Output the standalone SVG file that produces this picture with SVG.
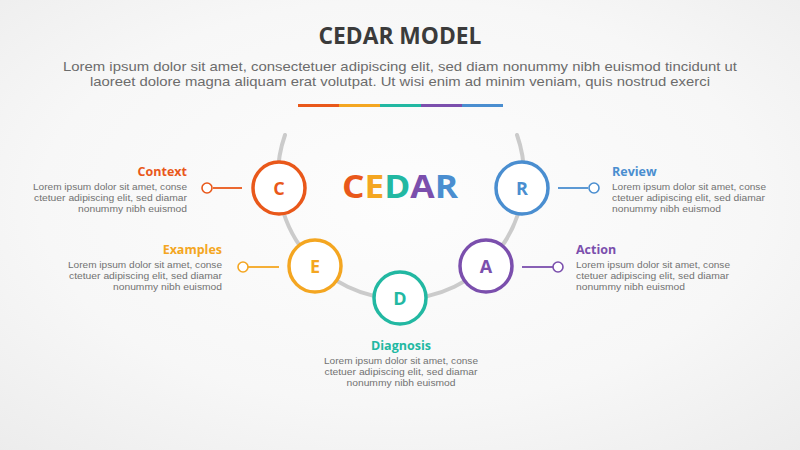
<svg xmlns="http://www.w3.org/2000/svg" width="800" height="450" viewBox="0 0 800 450">
<defs>
<radialGradient id="bg" cx="50%" cy="45%" r="75%">
<stop offset="0" stop-color="#fdfdfd"/>
<stop offset="0.6" stop-color="#f7f7f7"/>
<stop offset="1" stop-color="#ececec"/>
</radialGradient>
<style>
.title{font-family:"Open Sans","Liberation Sans",sans-serif;font-weight:700;font-size:24px;fill:#3b3b3b}
.sub{font-family:"Liberation Sans","Noto Sans",sans-serif;font-size:13px;fill:#6c6c6c}
.body{font-family:"Liberation Sans","Noto Sans",sans-serif;font-size:9.5px;fill:#727272}
.head{font-family:"Open Sans","Liberation Sans",sans-serif;font-weight:700;font-size:12.5px}
.big{font-family:"Open Sans","Liberation Sans",sans-serif;font-weight:700;font-size:32px}
.letter{font-family:"Open Sans","Liberation Sans",sans-serif;font-weight:700;font-size:18px;text-anchor:middle}
.ring{fill:#ffffff;stroke-width:3.5}
.dot{fill:#ffffff;stroke-width:1.6}
.lead{stroke-width:1.8}
.o{fill:#e9581a;stroke:#e9581a}
.y{fill:#f4a621;stroke:#f4a621}
.t{fill:#22b8a2;stroke:#22b8a2}
.p{fill:#7b4fad;stroke:#7b4fad}
.b{fill:#4a8ed0;stroke:#4a8ed0}
</style>
</defs>
<rect width="800" height="450" fill="url(#bg)"/>

<text class="title" x="400" y="44" text-anchor="middle" textLength="163" lengthAdjust="spacingAndGlyphs">CEDAR MODEL</text>
<text class="sub" x="400" y="71" text-anchor="middle" textLength="674" lengthAdjust="spacingAndGlyphs">Lorem ipsum dolor sit amet, consectetuer adipiscing elit, sed diam nonummy nibh euismod tincidunt ut</text>
<text class="sub" x="400" y="86" text-anchor="middle" textLength="620" lengthAdjust="spacingAndGlyphs">laoreet dolore magna aliquam erat volutpat. Ut wisi enim ad minim veniam, quis nostrud exerci</text>

<g id="colorbar">
<rect x="298" y="104" width="41" height="3" fill="#e9581a"/>
<rect x="339" y="104" width="41" height="3" fill="#f4a621"/>
<rect x="380" y="104" width="41" height="3" fill="#22b8a2"/>
<rect x="421" y="104" width="41" height="3" fill="#7b4fad"/>
<rect x="462" y="104" width="41" height="3" fill="#4a8ed0"/>
</g>

<g id="connectors" fill="none">
<path d="M 285 135 A 123 123 0 1 0 517 135" stroke="#cbcbcb" stroke-width="4" stroke-linecap="round"/>
<line class="lead o" x1="213" y1="188" x2="242" y2="188"/>
<line class="lead y" x1="248" y1="267" x2="279" y2="267"/>
<line class="lead b" x1="558" y1="188" x2="588" y2="188"/>
<line class="lead p" x1="522" y1="267" x2="553" y2="267"/>
<circle class="dot" cx="207" cy="188" r="5" stroke="#e9581a"/>
<circle class="dot" cx="243" cy="267" r="5" stroke="#f4a621"/>
<circle class="dot" cx="594" cy="188" r="5" stroke="#4a8ed0"/>
<circle class="dot" cx="558" cy="267" r="5" stroke="#7b4fad"/>
</g>

<g id="cedar-word">
<text class="big" x="400" y="198" text-anchor="middle" textLength="116" lengthAdjust="spacingAndGlyphs"><tspan fill="#e9581a">C</tspan><tspan fill="#f4a621">E</tspan><tspan fill="#22b8a2">D</tspan><tspan fill="#7b4fad">A</tspan><tspan fill="#4a8ed0">R</tspan></text>
</g>

<g id="node-c">
<circle class="ring" cx="279" cy="188" r="26" stroke="#e9581a"/>
<text class="letter" x="279" y="194.5" fill="#e9581a">C</text>
<text class="head" x="187" y="176" text-anchor="end" fill="#e9581a">Context</text>
<text class="body" text-anchor="end"><tspan x="187" y="190" textLength="154" lengthAdjust="spacingAndGlyphs">Lorem ipsum dolor sit amet, conse</tspan><tspan x="187" y="201" textLength="153" lengthAdjust="spacingAndGlyphs">ctetuer adipiscing elit, sed diamar</tspan><tspan x="187" y="212" textLength="109" lengthAdjust="spacingAndGlyphs">nonummy nibh euismod</tspan></text>
</g>

<g id="node-e">
<circle class="ring" cx="315" cy="266" r="26" stroke="#f4a621"/>
<text class="letter" x="315" y="272.5" fill="#f4a621">E</text>
<text class="head" x="222" y="254" text-anchor="end" fill="#f4a621">Examples</text>
<text class="body" text-anchor="end"><tspan x="222" y="268" textLength="154" lengthAdjust="spacingAndGlyphs">Lorem ipsum dolor sit amet, conse</tspan><tspan x="222" y="279" textLength="153" lengthAdjust="spacingAndGlyphs">ctetuer adipiscing elit, sed diamar</tspan><tspan x="222" y="290" textLength="109" lengthAdjust="spacingAndGlyphs">nonummy nibh euismod</tspan></text>
</g>

<g id="node-d">
<circle class="ring" cx="400" cy="298" r="26" stroke="#22b8a2"/>
<text class="letter" x="400" y="304.5" fill="#22b8a2">D</text>
<text class="head" x="401" y="350" text-anchor="middle" fill="#22b8a2">Diagnosis</text>
<text class="body" text-anchor="middle"><tspan x="401" y="364" textLength="154" lengthAdjust="spacingAndGlyphs">Lorem ipsum dolor sit amet, conse</tspan><tspan x="401" y="375" textLength="153" lengthAdjust="spacingAndGlyphs">ctetuer adipiscing elit, sed diamar</tspan><tspan x="401" y="386" textLength="109" lengthAdjust="spacingAndGlyphs">nonummy nibh euismod</tspan></text>
</g>

<g id="node-a">
<circle class="ring" cx="486" cy="266" r="26" stroke="#7b4fad"/>
<text class="letter" x="486" y="272.5" fill="#7b4fad">A</text>
<text class="head" x="576" y="254" text-anchor="start" fill="#7b4fad">Action</text>
<text class="body" text-anchor="start"><tspan x="576" y="268" textLength="154" lengthAdjust="spacingAndGlyphs">Lorem ipsum dolor sit amet, conse</tspan><tspan x="576" y="279" textLength="153" lengthAdjust="spacingAndGlyphs">ctetuer adipiscing elit, sed diamar</tspan><tspan x="576" y="290" textLength="109" lengthAdjust="spacingAndGlyphs">nonummy nibh euismod</tspan></text>
</g>

<g id="node-r">
<circle class="ring" cx="522" cy="188" r="26" stroke="#4a8ed0"/>
<text class="letter" x="522" y="194.5" fill="#4a8ed0">R</text>
<text class="head" x="612" y="176" text-anchor="start" fill="#4a8ed0">Review</text>
<text class="body" text-anchor="start"><tspan x="612" y="190" textLength="154" lengthAdjust="spacingAndGlyphs">Lorem ipsum dolor sit amet, conse</tspan><tspan x="612" y="201" textLength="153" lengthAdjust="spacingAndGlyphs">ctetuer adipiscing elit, sed diamar</tspan><tspan x="612" y="212" textLength="109" lengthAdjust="spacingAndGlyphs">nonummy nibh euismod</tspan></text>
</g>
</svg>
